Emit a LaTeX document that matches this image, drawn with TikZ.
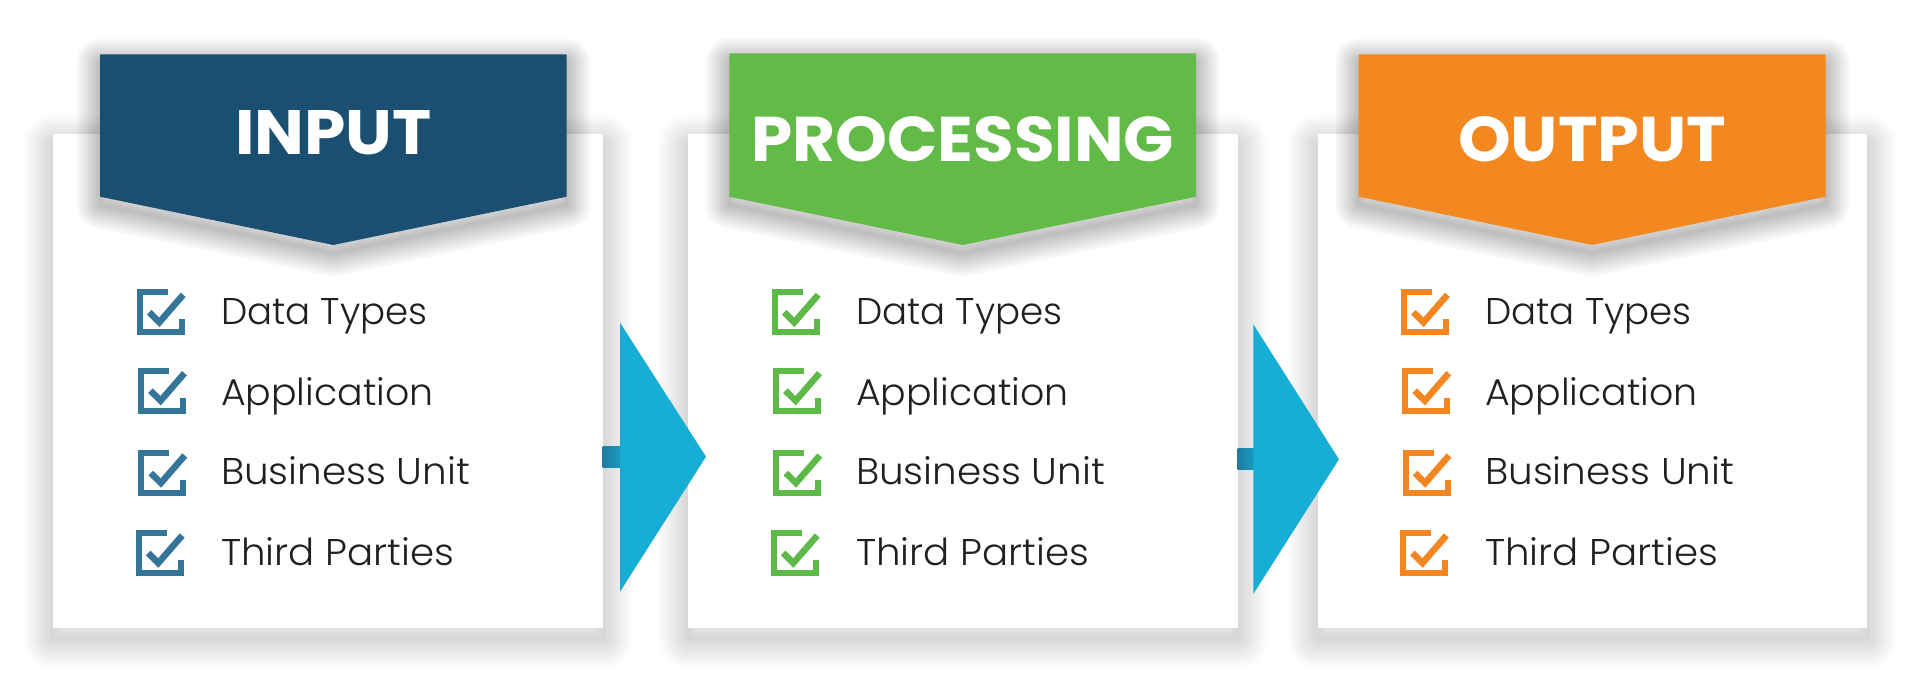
\documentclass[tikz,border=0pt]{standalone}
\usepackage{fontspec}
\setmainfont{Poppins}[UprightFont=* Light, BoldFont=* Bold]
\newlength\px \setlength\px{0.5pt}
\definecolor{inblue}{RGB}{27,79,114}
\definecolor{inchk}{RGB}{52,117,153}
\definecolor{progreen}{RGB}{98,187,70}
\definecolor{prochk}{RGB}{94,186,72}
\definecolor{outorange}{RGB}{244,136,32}
\definecolor{outchk}{RGB}{244,134,34}
\definecolor{arrowcol}{RGB}{22,174,212}
\definecolor{stubL}{RGB}{30,126,160}
\definecolor{stubR}{RGB}{26,152,192}
\definecolor{txtcol}{RGB}{35,31,32}
\tikzset{
  card/.style={fill=white, inner sep=0pt, outer sep=0pt, anchor=north west,
    minimum width=549.4\px, minimum height=494\px},
  cshadow/.style={draw=black, opacity=0.009, line join=round},
  hshadow/.style={draw=black, opacity=0.017, line join=round},
  hdrtext/.style={anchor=base, inner sep=0pt, text=white, font=\bfseries\fontsize{31pt}{36pt}\selectfont},
  item/.style={anchor=base west, inner sep=0pt, text=txtcol, font=\fontsize{18.6pt}{22pt}\selectfont},
  boxline/.style={line width=6\px, line cap=butt, line join=miter},
  tickline/.style={line width=6.5\px, line cap=butt, line join=miter}
}
\newcommand\chkbox[3]{%
  \begin{scope}[shift={(#1,#2)}]
    \draw[#3, boxline] (31,3) -- (3,3) -- (3,43) -- (45,43) -- (45,30);
    \draw[#3, tickline] (12.5,23) -- (22.6,33) -- (46.5,5.5);
  \end{scope}}
\begin{document}
\begin{tikzpicture}[x=0.5pt, y=-0.5pt]
  \fill[white] (0,0) rectangle (1920,683);
  \useasboundingbox (0,0) rectangle (1920,683);
  % card shadows
  \foreach \cx in {53.3, 688.3, 1317.5}{
    \foreach \sw in {3,6,...,60}{
      \path[cshadow, line width=\sw\px] (\cx,134.3+10) rectangle (\cx+549.4,628.3+10);
    }
  }
  % cards
  \node[card] (c1) at (53.3,134.3) {};
  \node[card] (c2) at (688.3,134.3) {};
  \node[card] (c3) at (1317.5,134.3) {};
  % headers
  \foreach \hl/\hr/\htop/\col/\lbl/\lw/\lb/\lh/\n in {
      100/566.7/54.3/inblue/INPUT/196.5/155/44/1,
      729.3/1196/53.3/progreen/PROCESSING/423/162/45/2,
      1358.7/1825.6/54.3/outorange/OUTPUT/268/162/45/3}{
    \foreach \sw in {3,6,...,48}{
      \path[hshadow, line width=\sw\px] (\hl,\htop+8) -- (\hr,\htop+8) -- (\hr,196.7+8) -- ({(\hl+\hr)/2},245+8) -- (\hl,196.7+8) -- cycle;
    }
    \fill[\col] (\hl,\htop) -- (\hr,\htop) -- (\hr,196.7) -- ({(\hl+\hr)/2},245) -- (\hl,196.7) -- cycle;
    \node[hdrtext] (h\n) at ({(\hl+\hr)/2},\lb) {\resizebox{\lw\px}{\lh\px}{\lbl}};
  }
  % list items
  \foreach \cx/\col/\n in {53.3/inchk/1, 688.3/prochk/2, 1317.5/outchk/3}{
    \foreach \by/\bx/\bl/\txt/\w/\k in {
        289.3/83.4/324.5/Data Types/206.5/1,
        367.7/84.7/406/Application/212.5/2,
        450/85/485/Business Unit/249/3,
        530/82.4/566/Third Parties/233/4}{
      \chkbox{\cx+\bx}{\by}{\col}
      \node[item] (t\n\k) at (\cx+167.3,\bl) {\resizebox{\w\px}{\height}{\txt}};
    }
  }
  % arrows
  \coordinate (s1) at (602.7,446.7);
  \coordinate (e1) at (620,467.3);
  \shade[left color=stubL, right color=stubR] (s1) rectangle (e1);
  \fill[arrowcol] (620,322.7) -- (706,456.7) -- (620,591.7) -- cycle;
  \coordinate (s2) at (1237.5,449);
  \coordinate (e2) at (1253.3,469.3);
  \shade[left color=stubL, right color=stubR] (s2) rectangle (e2);
  \fill[arrowcol] (1253.3,324.3) -- (1339,459.3) -- (1253.3,594) -- cycle;
\end{tikzpicture}
\end{document}
